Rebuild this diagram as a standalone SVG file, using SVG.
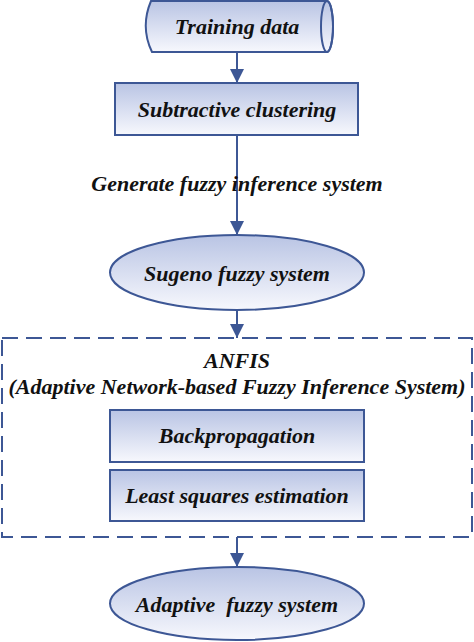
<svg xmlns="http://www.w3.org/2000/svg" width="474" height="642" viewBox="0 0 474 642">
<style>
.shape{stroke:#3d5795;stroke-width:2;fill:url(#grad)}
.conn{stroke:#3d5795;stroke-width:2;fill:none}
text{font-family:"Liberation Serif","Times New Roman",serif;font-weight:bold;font-style:italic;font-size:22px;fill:#111;text-anchor:middle}
</style>
<defs>
<linearGradient id="grad" x1="0" y1="0" x2="0" y2="1">
<stop offset="0" stop-color="#b9c4e4"/>
<stop offset="1" stop-color="#f7f8fd"/>
</linearGradient>
<marker id="arrow" viewBox="0 0 12 12" refX="12" refY="6" markerWidth="14" markerHeight="14" markerUnits="userSpaceOnUse" orient="auto">
<path d="M0,0 L12,6 L0,12 z" fill="#3d5795"/>
</marker>
</defs>
<rect width="474" height="642" fill="#fff"/>
<g id="connectors">
<line class="conn" x1="237" y1="52" x2="237" y2="83" marker-end="url(#arrow)"/>
<line class="conn" x1="237" y1="135" x2="237" y2="235" marker-end="url(#arrow)"/>
<line class="conn" x1="237" y1="310" x2="237" y2="338" marker-end="url(#arrow)"/>
<line class="conn" x1="237" y1="537" x2="237" y2="567" marker-end="url(#arrow)"/>
</g>
<g id="label-generate">
<text x="237" y="191">Generate fuzzy inference system</text>
</g>
<g id="training-data">
<path class="shape" d="M151,1 L327,1 A6,25.5 0 0 1 327,52 L152,52 Q140,27 151,1 Z"/>
<ellipse cx="327" cy="26.5" rx="6" ry="25.5" fill="none" stroke="#3d5795" stroke-width="2"/>
<text x="237" y="34">Training data</text>
</g>
<g id="subtractive-clustering">
<rect class="shape" x="115" y="83" width="243" height="52"/>
<text x="237" y="117">Subtractive clustering</text>
</g>
<g id="sugeno">
<ellipse class="shape" cx="237" cy="272.5" rx="127" ry="37.5"/>
<text x="237" y="281">Sugeno fuzzy system</text>
</g>
<g id="anfis">
<rect x="2" y="338" width="470" height="199" fill="none" stroke="#3d5795" stroke-width="2" stroke-dasharray="16,8"/>
<text x="237" y="368">ANFIS</text>
<text x="237" y="394">(Adaptive Network-based Fuzzy Inference System)</text>
</g>
<g id="backpropagation">
<rect class="shape" x="110" y="410" width="254" height="52"/>
<text x="237" y="443">Backpropagation</text>
</g>
<g id="least-squares">
<rect class="shape" x="110" y="470" width="254" height="51"/>
<text x="237" y="503">Least squares estimation</text>
</g>
<g id="adaptive-fuzzy">
<ellipse class="shape" cx="237" cy="603.5" rx="127" ry="36.5"/>
<text x="237" y="612" xml:space="preserve">Adaptive  fuzzy system</text>
</g>
</svg>
